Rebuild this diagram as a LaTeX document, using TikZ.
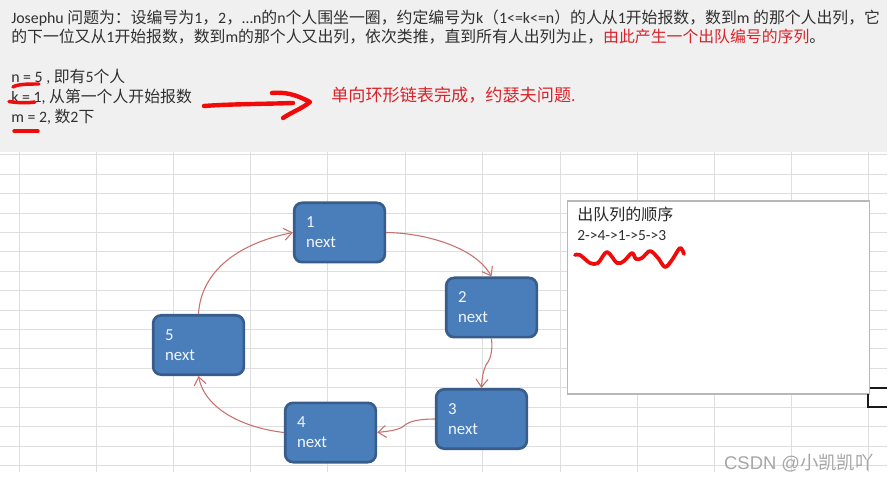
\documentclass[tikz,border=0pt]{standalone}
\usepackage{fontspec}
\usepackage{xcolor}
\setmainfont{Carlito}
\newfontfamily\cjkf{Noto Sans CJK SC}
\newfontfamily\arialf{Liberation Sans}
\usetikzlibrary{arrows.meta}
\definecolor{paneg}{HTML}{F0F0F0}
\definecolor{gridg}{HTML}{DEDEDE}
\definecolor{boxfill}{HTML}{4A7EBB}
\definecolor{boxline}{HTML}{385D8A}
\definecolor{linkc}{HTML}{C8706C}
\definecolor{inkred}{HTML}{F00A0A}
\definecolor{txt}{HTML}{303030}
\definecolor{redtxt}{HTML}{D8232A}
\newcommand{\zh}[1]{{\cjkf #1}}
\tikzset{
  x=0.75pt,y=-0.75pt,
  gridline/.style={draw=gridg,line width=0.75pt},
  listbox/.style={draw=boxline,line width=2pt,fill=boxfill,rounded corners=6pt,
     minimum width=68pt,minimum height=44.5pt,text width=50pt,inner sep=0pt,align=left,
     text=white!92!boxfill,font=\fontsize{12.6}{15}\selectfont},
  link/.style={draw=linkc,line width=0.8pt,-{Straight Barb[length=6pt,width=9pt]}},
  txtline/.style={anchor=base west,inner sep=0pt,text=txt,font=\fontsize{11.9}{13}\selectfont},
  ink/.style={draw=inkred,line cap=round,line join=round},
}
\begin{document}
\begin{tikzpicture}
\useasboundingbox (0,0) rectangle (890,481);
\fill[white] (0,0) rectangle (890,481);
\fill[paneg] (0,0) rectangle (887,152);
% grid
\foreach \yy in {155,174.4,193.8,213.2,232.6,252,271.4,290.8,310.2,329.6,349,368.4,387.8,407.2,426.6,446,465.4}
  \draw[gridline] (0,\yy) -- (887,\yy);
\foreach \xx in {19,96.2,173.4,250.6,327.8,405,482.6,560,637,714,791,868}
  \draw[gridline] (\xx,152) -- (\xx,472);
% header text
\node[txtline] (l1a) at (11,23.5) {Josephu \zh{问题为：设编号为}1\zh{，}2\zh{，}…n\zh{的}n\zh{个人围坐一圈，约定编号为}k\zh{（}1<=k<=n\zh{）的人从}1\zh{开始报数，数到}m \zh{的那个人出列，它}};
\node[txtline] (l2a) at (11,43) {\zh{的下一位又从}1\zh{开始报数，数到}m\zh{的那个人又出列，依次类推，直到所有人出列为止，}\textcolor{redtxt}{\zh{由此产生一个出队编号的序列}}\zh{。}};
\node[txtline] (l3) at (11,82.5) {n = 5 , \zh{即有}5\zh{个人}};
\node[txtline] (l4) at (11,103) {k = 1, \zh{从第一个人开始报数}};
\node[txtline] (l5) at (11,123) {m = 2, \zh{数}2\zh{下}};
\node[txtline,text=redtxt,font=\fontsize{12.85}{15}\selectfont] (hint) at (331,101.5) {\zh{单向环形链表完成，约瑟夫问题}.};
% red ink
\draw[ink,line width=2.6pt] (13,87) .. controls (18,84) and (28,84) .. (39,84);
\draw[ink,line width=2.6pt] (9,101.5) .. controls (18,103) and (28,103) .. (35,102);
\draw[ink,line width=2.6pt] (14,131) -- (38,131);
\draw[ink,line width=3.3pt] (204,106) .. controls (230,104) and (265,104) .. (293,103);
\draw[ink,line width=3.3pt] (272,93) .. controls (285,92) and (295,94) .. (310,102) .. controls (303,108) and (292,112) .. (283,118);
% nodes
\node[listbox] (n1) at (339.5,232.5) {1\\next};
\node[listbox] (n2) at (491.5,307.5) {2\\next};
\node[listbox] (n3) at (481.5,419) {3\\next};
\node[listbox] (n4) at (330.5,432.5) {4\\next};
\node[listbox] (n5) at (198.5,345) {5\\next};
% links
\draw[link] (n1.east) .. controls (425,233) and (475,247) .. (n2.north);
\draw[link] (n2.south) .. controls (493,352) and (490,360) .. (486,365) .. controls (483,371) and (482,378) .. (n3.north);
\draw[link] (n3.west) .. controls (420,419) and (410,421) .. (405,425) .. controls (400,430) and (390,431) .. (n4.east);
\draw[link] (n4.west) .. controls (245,428) and (205,410) .. (n5.south);
\draw[link] (n5.north) .. controls (201,270) and (240,243) .. (n1.west);
% order box
\node[draw=black!28,line width=0.9pt,fill=white,minimum width=227pt,minimum height=144.75pt,inner sep=0pt] (order) at (718.5,297.5) {};
\node[txtline,text=black!85,font=\fontsize{12}{13}\selectfont] (otitle) at (577,220.5) {\zh{出队列的顺序}};
\node[txtline,font=\fontsize{11.6}{12}\selectfont] (oseq) at (577,241) {2->4->1->5->3};
\draw[ink,line width=2.8pt] plot[smooth,tension=0.55] coordinates {(575,255) (580,255) (590,263) (598,263) (607,252) (617,263) (624,261) (632,253) (636,259) (642,258) (650,251) (658,258) (665,267) (672,260) (680,248) (684,254)};
% selection corner
\draw[black!90,line width=1.9pt] (870,388) -- (887,388);
\draw[black!90,line width=1.9pt] (887,407) -- (868,407) -- (868,394);
% watermark
\node[anchor=base east,inner sep=0pt,text=black!35,font=\arialf\fontsize{13.8}{15}\selectfont] (wm) at (874,469) {CSDN @\zh{小凯凯吖}};
\end{tikzpicture}
\end{document}
